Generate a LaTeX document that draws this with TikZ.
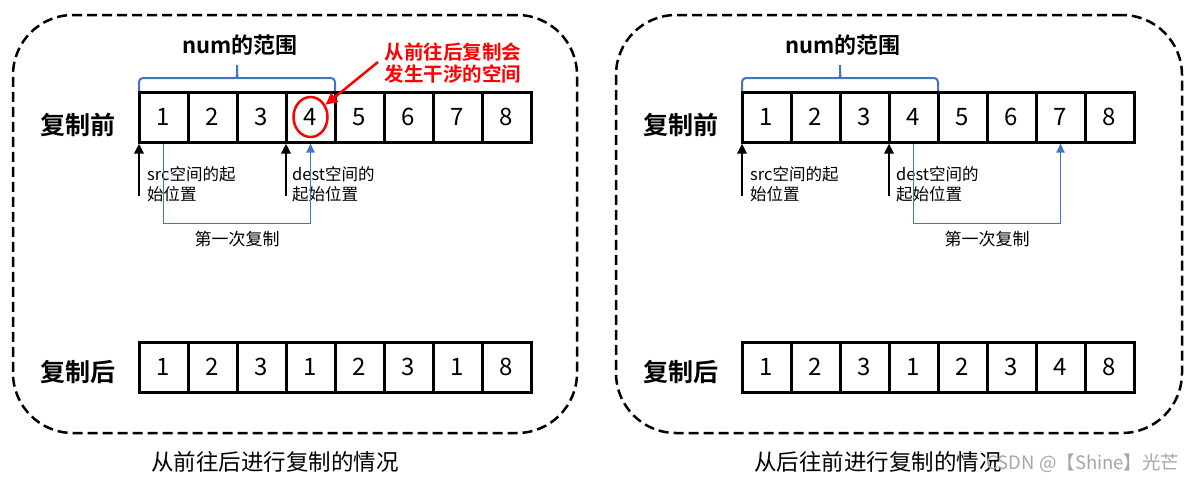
\documentclass[tikz,border=0pt]{standalone}
\usepackage{fontspec}
\setmainfont{Noto Sans CJK SC}[BoldFont={Noto Sans CJK SC Bold}]
\usetikzlibrary{arrows.meta,shapes.geometric}
\definecolor{myblue}{HTML}{4472C4}
\definecolor{myred}{HTML}{FF0000}
\begin{document}
\begin{tikzpicture}[x=1pt,y=-1pt,
 cell/.style={draw, line width=3pt, minimum width=49pt, minimum height=50pt, inner sep=0pt, font=\fontsize{24}{24}\selectfont},
 panel/.style={draw, dash pattern=on 10pt off 5pt, line width=2.5pt, rounded corners=60pt, inner sep=0pt},
 rowlabel/.style={font=\fontsize{25}{25}\selectfont\bfseries},
 rangetitle/.style={font=\fontsize{22}{22}\selectfont\bfseries},
 small/.style={font=\fontsize{16.5}{19.5}\selectfont, align=left, anchor=west, inner sep=0pt},
 copylabel/.style={font=\fontsize{17}{17}\selectfont},
 captiontext/.style={font=\fontsize{22.5}{22.5}\selectfont},
 bracepath/.style={draw=myblue, line width=2pt, rounded corners=4pt},
 bluearrow/.style={draw=myblue, line width=1.8pt, -{Triangle[length=9pt,width=8pt]}},
 blackarrow/.style={draw=black, line width=2.5pt, -{Triangle[length=10pt,width=9pt]}},
 redarrow/.style={draw=myred, line width=2.5pt, -{Triangle[length=12pt,width=11pt]}},
]
\useasboundingbox (0,0) rectangle (1194,482);

% panels
\node[panel, minimum width=564pt, minimum height=418pt] (PL) at (295,224) {};
\node[panel, minimum width=566pt, minimum height=418pt] (PR) at (899,224) {};

% cells left
\foreach \v [count=\i] in {1,2,3,4,5,6,7,8}
  \node[cell] (LT\i) at ({163.5+49*(\i-1)},117) {\v};
\foreach \v [count=\i] in {1,2,3,1,2,3,1,8}
  \node[cell] (LB\i) at ({163.5+49*(\i-1)},367) {\v};
% cells right
\foreach \v [count=\i] in {1,2,3,4,5,6,7,8}
  \node[cell] (RT\i) at ({766.5+49*(\i-1)},117) {\v};
\foreach \v [count=\i] in {1,2,3,1,2,3,4,8}
  \node[cell] (RB\i) at ({766.5+49*(\i-1)},367) {\v};

% row labels
\node[rowlabel] (befL) at (78,125) {复制前};
\node[rowlabel] (aftL) at (78,372) {复制后};
\node[rowlabel] (befR) at (681,125) {复制前};
\node[rowlabel] (aftR) at (681,372) {复制后};

% braces
\draw[bracepath] (139,91) -- (139,78) -- (232,78) .. controls (236,78) and (237,76) .. (237,72) -- (237,65);
\draw[bracepath] (237,72) .. controls (237,76) and (238,78) .. (242,78) -- (335,78) -- (335,91);
\draw[bracepath] (742,91) -- (742,78) -- (835,78) .. controls (839,78) and (840,76) .. (840,72) -- (840,65);
\draw[bracepath] (840,72) .. controls (840,76) and (841,78) .. (845,78) -- (938,78) -- (938,91);
\node[rangetitle] (numL) at (240,45) {num的范围};
\node[rangetitle] (numR) at (843,45) {num的范围};

% left: pointers
\coordinate (saL) at (139,196);
\draw[blackarrow] (saL) -- (saL |- LT1.south);
\coordinate (daL) at (286,196);
\draw[blackarrow] (daL) -- (daL |- LT4.south);
\node[small] (srcL) at (147,184) {src空间的起\\始位置};
\node[small] (dstL) at (292,184) {dest空间的\\起始位置};
\draw[bluearrow] (LT1.south) -- ++(0,80) -| (LT4.south);
\node[copylabel] (cpL) at (237,239) {第一次复制};

% red highlight
\node[draw=myred, ellipse, line width=2.5pt, minimum width=34pt, minimum height=40pt] (circ) at (LT4) {};
\node[font=\fontsize{19.5}{22}\selectfont\bfseries, text=myred, align=center] (warn) at (453,63) {从前往后复制会\\发生干涉的空间};
\coordinate (rs) at (378,62);
\draw[redarrow] (rs) -- (circ);

% right: pointers
\coordinate (saR) at (742,196);
\draw[blackarrow] (saR) -- (saR |- RT1.south);
\coordinate (daR) at (889,196);
\draw[blackarrow] (daR) -- (daR |- RT4.south);
\node[small] (srcR) at (750,184) {src空间的起\\始位置};
\node[small] (dstR) at (896,184) {dest空间的\\起始位置};
\draw[bluearrow] (RT4.south) -- ++(0,80) -| (RT7.south);
\node[copylabel] (cpR) at (987,239) {第一次复制};

% captions
\node[captiontext] (capL) at (275,462) {从前往后进行复制的情况};
\node[captiontext] (capR) at (878,462) {从后往前进行复制的情况};
\node[font=\fontsize{18.5}{18.5}\selectfont, text=gray!70, anchor=east] (wm) at (1183,463) {CSDN @【Shine】光芒};
\end{tikzpicture}
\end{document}
